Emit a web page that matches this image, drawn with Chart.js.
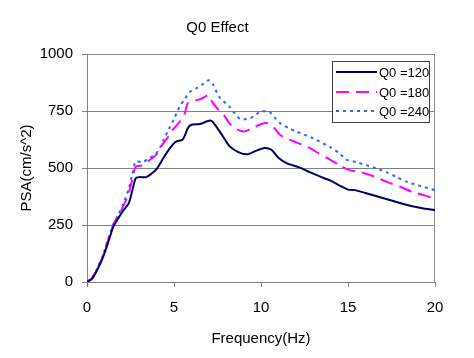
<!DOCTYPE html>
<html>
<head>
<meta charset="utf-8">
<script src="https://cdn.jsdelivr.net/npm/chart.js@4"></script>
<style>
  html, body { margin: 0; padding: 0; background: #fff; }
  #wrap { width: 474px; height: 358px; }
</style>
</head>
<body>
<div id="wrap"><canvas id="q0Chart" width="474" height="358"></canvas></div>
<script>
// values (frequency in Hz, PSA in cm/s^2)
const q120Freq = [0, 0.3, 0.6, 0.9, 1.2, 1.5, 1.8, 2.1, 2.4, 2.6, 2.8, 3.0, 3.4, 3.7, 4.0, 4.4, 4.8, 5.1, 5.5, 5.8, 6.0, 6.5, 7.1, 7.4, 7.8, 8.2, 8.7, 9.2, 9.7, 10.2, 10.6, 11.0, 11.5, 12.2, 12.8, 13.6, 14.0, 14.6, 15.0, 15.4, 16.0, 16.8, 17.6, 18.4, 19.2, 20]
const q120Psa = [0, 15, 55, 105, 170, 240, 280, 315, 345, 400, 455, 460, 460, 475, 495, 545, 590, 615, 625, 675, 690, 693, 708, 685, 640, 595, 570, 560, 575, 588, 580, 545, 520, 503, 482, 456, 445, 420, 405, 403, 390, 373, 355, 338, 325, 315]

const q180Freq = [0, 0.3, 0.6, 0.9, 1.2, 1.5, 1.8, 2.1, 2.4, 2.6, 2.8, 3.2, 3.6, 4.0, 4.4, 4.7, 4.9, 5.3, 5.6, 5.8, 6.2, 6.6, 7.0, 7.2, 7.5, 7.8, 8.2, 8.6, 9.0, 9.5, 10.0, 10.3, 10.7, 11.1, 11.6, 12.1, 12.8, 13.3, 13.8, 14.5, 15.0, 15.5, 15.9, 16.6, 17.2, 18.0, 18.7, 19.4, 20]
const q180Psa = [0, 18, 60, 110, 180, 250, 290, 335, 390, 450, 505, 512, 535, 560, 610, 640, 665, 700, 735, 785, 795, 805, 820, 790, 760, 740, 695, 670, 660, 675, 692, 697, 680, 645, 625, 610, 588, 565, 544, 513, 493, 484, 478, 460, 440, 418, 395, 380, 365]

const q240Freq = [0, 0.3, 0.6, 0.9, 1.2, 1.5, 1.8, 2.1, 2.4, 2.6, 2.8, 3.2, 3.6, 3.9, 4.2, 4.4, 4.7, 5.0, 5.3, 5.6, 5.9, 6.3, 6.7, 7.0, 7.25, 7.6, 8.2, 8.5, 8.8, 9.4, 10.0, 10.5, 10.8, 11.1, 11.6, 12.1, 13.0, 14.0, 14.5, 14.9, 15.5, 16.4, 17.2, 17.8, 18.4, 19.2, 20]
const q240Psa = [0, 20, 62, 115, 185, 250, 295, 345, 410, 470, 528, 526, 545, 557, 590, 623, 670, 715, 765, 800, 833, 850, 870, 885, 865, 812, 768, 740, 715, 719, 748, 745, 720, 697, 675, 658, 630, 590, 565, 537, 525, 504, 482, 460, 439, 420, 403]

const seriesLabels = ['Q0 =120', 'Q0 =180', 'Q0 =240']
const xTicks = [0, 5, 10, 15, 20]
const yTicks = [0, 250, 500, 750, 1000]

function toPoints(xs, ys) {
    return xs.map((x, i) => ({ x: x, y: ys[i] }))
}

// plot frame (top + right border) and the legend box inside the plot
const framePlugin = {
    id: 'frame',
    beforeDatasetsDraw(chart) {
        const a = chart.chartArea
        const ctx = chart.ctx
        ctx.save()
        ctx.strokeStyle = '#8c8c8c'
        ctx.lineWidth = 1
        ctx.beginPath()
        ctx.moveTo(a.left, a.top + 0.5)
        ctx.lineTo(a.right - 0.5, a.top + 0.5)
        ctx.lineTo(a.right - 0.5, a.bottom)
        ctx.stroke()
        ctx.restore()
    },
    afterDraw(chart) {
        const ctx = chart.ctx
        ctx.save()
        ctx.fillStyle = '#ffffff'
        ctx.fillRect(332, 61, 97, 61)
        ctx.strokeStyle = '#404040'
        ctx.lineWidth = 1
        ctx.strokeRect(332.5, 61.5, 97, 61)
        const rows = [72, 92, 111]
        chart.data.datasets.forEach((ds, i) => {
            ctx.strokeStyle = ds.borderColor
            ctx.lineWidth = ds.borderWidth
            ctx.setLineDash(ds.borderDash || [])
            ctx.beginPath()
            ctx.moveTo(336, rows[i])
            ctx.lineTo(377, rows[i])
            ctx.stroke()
            ctx.setLineDash([])
            ctx.fillStyle = '#000000'
            ctx.font = '13px "Liberation Sans", Arial, sans-serif'
            ctx.textBaseline = 'middle'
            ctx.textAlign = 'left'
            ctx.fillText(ds.label, 379, rows[i] + 1)
        })
        ctx.restore()
    }
}

const font = { family: '"Liberation Sans", Arial, sans-serif', size: 15 }

const ctx = document.getElementById('q0Chart').getContext('2d')
const q0Chart = new Chart(ctx, {
    type: 'line',
    data: {
        datasets: [
            {
                label: seriesLabels[0],
                data: toPoints(q120Freq, q120Psa),
                borderColor: '#000066',
                borderWidth: 2,
                pointRadius: 0,
                tension: 0.25,
                fill: false
            },
            {
                label: seriesLabels[1],
                data: toPoints(q180Freq, q180Psa),
                borderColor: '#ff00ff',
                borderWidth: 2,
                borderDash: [13, 7],
                pointRadius: 0,
                tension: 0.25,
                fill: false
            },
            {
                label: seriesLabels[2],
                data: toPoints(q240Freq, q240Psa),
                borderColor: '#3366ff',
                borderWidth: 2,
                borderDash: [3, 4],
                pointRadius: 0,
                tension: 0.25,
                fill: false
            }
        ]
    },
    options: {
        responsive: false,
        animation: false,
        layout: { padding: { left: 0, right: 39, top: 0, bottom: 0 } },
        plugins: {
            legend: { display: false },
            tooltip: { enabled: false },
            title: {
                display: true,
                text: 'Q0 Effect',
                color: '#000',
                font: { family: font.family, size: 15, weight: 'normal' },
                padding: { top: 19, bottom: 17 }
            }
        },
        scales: {
            x: {
                type: 'linear',
                min: 0,
                max: 20,
                afterBuildTicks: (scale) => { scale.ticks = xTicks.map(v => ({ value: v })) },
                afterFit: (scale) => { scale.height = 76 },
                ticks: { color: '#000', font: font, padding: 12, maxRotation: 0, callback: (v) => String(v) },
                grid: { drawOnChartArea: false, drawTicks: true, tickLength: 5, color: '#808080' },
                border: { color: '#808080', width: 1 },
                title: { display: true, text: 'Frequency(Hz)', color: '#000', font: font, padding: { top: 4, bottom: 10 } }
            },
            y: {
                min: 0,
                max: 1000,
                afterBuildTicks: (scale) => { scale.ticks = yTicks.map(v => ({ value: v })) },
                afterFit: (scale) => { scale.width = 87 },
                ticks: { color: '#000', font: font, padding: 9, callback: (v) => String(v) },
                grid: { color: '#808080', tickLength: 5 },
                border: { color: '#808080', width: 1 },
                title: { display: true, text: 'PSA(cm/s^2)', color: '#000', font: font, padding: { top: 18, bottom: 4 } }
            }
        }
    },
    plugins: [framePlugin]
})
</script>
</body>
</html>
